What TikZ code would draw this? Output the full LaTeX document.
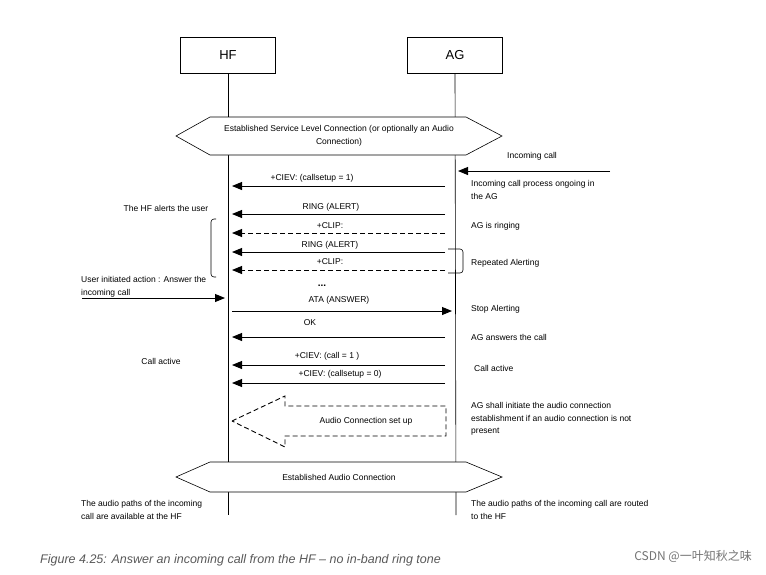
\documentclass[tikz,border=0pt]{standalone}
\usepackage{fontspec}
\setmainfont{Liberation Sans}
\newfontfamily\cjk{Noto Sans CJK SC}
\usetikzlibrary{arrows.meta}
\begin{document}
\begin{tikzpicture}[x=1pt,y=-1pt,
  txt/.style={font=\fontsize{8.5}{12.5}\selectfont,inner sep=0pt},
  lt/.style={txt,anchor=west,align=left},
  msg/.style={line width=0.9pt,-{Triangle[length=10pt,width=8pt]}},
  dmsg/.style={msg,dash pattern=on 5pt off 3pt},
  ent/.style={draw,line width=0.6pt,minimum width=95pt,minimum height=36pt,font=\fontsize{13}{15}\selectfont}]
\useasboundingbox (0,0) rectangle (766,574);
\node[ent] (hf) at (228,55) {HF};
\node[ent] (ag) at (455,55) {AG};
\coordinate (hfend) at (228,515);
\coordinate (agend) at (456,515);
\draw[line width=0.6pt] (hf.south) -- (hfend);
\draw[line width=0.6pt] (ag.south) -- (agend);
% hexagons
\draw[fill=white,line width=0.6pt] (176,136) -- (210,117) -- (466,117) -- (502,136) -- (466,155) -- (210,155) -- cycle;
\node[txt,align=center] (slc) at (339,136) {Established Service Level Connection (or optionally an Audio\\Connection)};
\draw[fill=white,line width=0.6pt] (176,477) -- (210,462) -- (466,462) -- (502,477) -- (466,492) -- (210,492) -- cycle;
\node[txt] (eac) at (339,477) {Established Audio Connection};
\coordinate (ic0) at (610,171); \coordinate (ic1) at (458,171);
\draw[msg] (ic0) -- (ic1);
\node[txt] (icl) at (532,156) {Incoming call};
\foreach \n/\y in {a/186,b/214,c/233,d/252,e/270,g/337,h/365,i/383}{
  \coordinate (ag\n) at (445,\y); \coordinate (hf\n) at (232,\y);}
\draw[msg] (aga) -- (hfa); \node[txt] (la) at (312,178) {+CIEV: (callsetup = 1)};
\draw[msg] (agb) -- (hfb); \node[txt] (lb) at (331,207) {RING (ALERT)};
\draw[dmsg] (agc) -- (hfc); \node[txt] (lc) at (330,226) {+CLIP:};
\draw[msg] (agd) -- (hfd); \node[txt] (ld) at (330,245) {RING (ALERT)};
\draw[dmsg] (age) -- (hfe); \node[txt] (le) at (330,262) {+CLIP:};
\node[font=\bfseries\fontsize{10}{10}\selectfont,inner sep=0pt] (dots) at (322,286) {...};
\coordinate (ata0) at (232,311); \coordinate (ata1) at (452,311);
\draw[msg] (ata0) -- (ata1); \node[txt] (lata) at (339,300) {ATA (ANSWER)};
\draw[msg] (agg) -- (hfg); \node[txt] (lg) at (310,323) {OK};
\draw[msg] (agh) -- (hfh); \node[txt] (lh) at (327,356) {+CIEV: (call = 1 )};
\draw[msg] (agi) -- (hfi); \node[txt] (li) at (340,374) {+CIEV: (callsetup = 0)};
\coordinate (ua0) at (82,298); \coordinate (ua1) at (225,298);
\draw[msg] (ua0) -- (ua1);
% brackets
\draw[line width=0.6pt,rounded corners=3pt] (216,219) -- (211,219) -- (211,277) -- (216,277);
\draw[line width=0.6pt,rounded corners=3pt] (448,249) -- (463,249) -- (463,273) -- (448,273);
% fat dashed arrow
\draw[line width=0.9pt,dash pattern=on 5pt off 3pt] (232,421) -- (285,396) -- (285,406) -- (446,406) -- (446,436) -- (285,436) -- (285,447) -- cycle;
\node[txt] (lac) at (366,421) {Audio Connection set up};
% left texts
\node[txt] (al) at (166,208) {The HF alerts the user};
\node[lt] (ui) at (81,287) {User initiated action : Answer the\\incoming call};
\node[txt] (ca) at (161,361) {Call active};
\node[lt] (bl) at (81,510) {The audio paths of the incoming\\call are available at the HF};
% right texts
\node[lt] (r1) at (471,190) {Incoming call process ongoing in\\the AG};
\node[lt] (r2) at (471,226) {AG is ringing};
\node[lt] (r3) at (471,263) {Repeated Alerting};
\node[lt] (r4) at (471,309) {Stop Alerting};
\node[lt] (r5) at (471,337) {AG answers the call};
\node[lt] (r6) at (474,368) {Call active};
\node[lt] (r7) at (471,419) {AG shall initiate the audio connection\\establishment if an audio connection is not\\present};
\node[lt] (r8) at (471,510) {The audio paths of the incoming call are routed\\to the HF};
\node[anchor=west,inner sep=0pt,font=\itshape\fontsize{12.5}{14}\selectfont,text=black!65] (cap) at (40,560) {Figure 4.25: Answer an incoming call from the HF -- no in-band ring tone};
\node[anchor=east,inner sep=0pt,font=\cjk\fontsize{12}{13}\selectfont,text=black!55] (wm) at (752,556) {CSDN @一叶知秋之味};
\end{tikzpicture}
\end{document}
